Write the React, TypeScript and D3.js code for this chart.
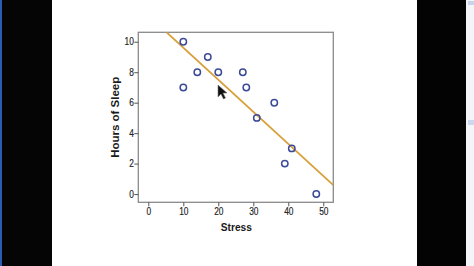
import * as d3 from "d3";
import { useEffect, useRef } from "react";

const stress = [10, 10, 14, 17, 20, 27, 28, 31, 36, 39, 41, 48];
const sleep = [10, 7, 8, 9, 8, 8, 7, 5, 6, 2, 3, 0];
const xTicks = [0, 10, 20, 30, 40, 50];
const yTicks = [0, 2, 4, 6, 8, 10];

const W = 474;
const H = 266;
// the video frame is squeezed a little horizontally, so the text is too
const SQ = 0.84;

export default function App() {
  const ref = useRef<SVGSVGElement>(null);

  useEffect(() => {
    const svg = d3.select(ref.current);
    svg.selectAll("*").remove();

    // screen frame around the slide
    svg.append("rect").attr("width", W).attr("height", H).attr("fill", "#ffffff");
    svg.append("rect").attr("x", 0).attr("width", 52).attr("height", H).attr("fill", "#050505");
    svg.append("rect").attr("x", 0).attr("width", 2).attr("height", H).attr("fill", "#2a5cb4");
    svg.append("rect").attr("x", 417).attr("width", 49).attr("height", H).attr("fill", "#030303");
    svg.append("rect").attr("x", 466).attr("width", 8).attr("height", H).attr("fill", "#f4f5f8");
    svg.append("rect").attr("x", 468).attr("y", 120).attr("width", 6).attr("height", 5).attr("fill", "#cdd8ee");
    svg.append("rect").attr("x", 468).attr("y", 1).attr("width", 6).attr("height", 4).attr("fill", "#c9d4ea");

    const left = 138.3, right = 333.3, top = 32.3, bottom = 202.3;
    const x = d3.scaleLinear().domain([-2.86, 52.86]).range([left, right]);
    const y = d3.scaleLinear().domain([-0.54, 10.62]).range([bottom, top]);

    const font = "'Liberation Sans', Arial, sans-serif";

    const g = svg.append("g");
    g.append("rect")
      .attr("x", left)
      .attr("y", top)
      .attr("width", right - left)
      .attr("height", bottom - top)
      .attr("fill", "#ffffff")
      .attr("stroke", "#8a8a8a")
      .attr("stroke-width", 1.3);

    const xAxis = d3.axisBottom(x).tickValues(xTicks).tickSize(4).tickPadding(3).tickFormat(d3.format("d"));
    const xg = g.append("g").attr("transform", `translate(0,${bottom})`).call(xAxis);
    xg.select(".domain").remove();
    xg.selectAll("line").attr("stroke", "#555");
    xg.selectAll("text")
      .attr("font-family", font)
      .attr("font-size", 10)
      .attr("fill", "#222")
      .attr("stroke", "#222")
      .attr("stroke-width", 0.15)
      .attr("y", 5.5)
      .attr("transform", `scale(${SQ},1)`);

    const yAxis = d3.axisLeft(y).tickValues(yTicks).tickSize(4).tickPadding(2).tickFormat(d3.format("d"));
    const yg = g.append("g").attr("transform", `translate(${left},0)`).call(yAxis);
    yg.select(".domain").remove();
    yg.selectAll("line").attr("stroke", "#555");
    yg.selectAll("text")
      .attr("font-family", font)
      .attr("font-size", 10)
      .attr("fill", "#222")
      .attr("stroke", "#222")
      .attr("stroke-width", 0.15)
      .attr("x", -4.4 / SQ)
      .attr("transform", `scale(${SQ},1)`);

    // least squares fit line
    const mx = d3.mean(stress) as number;
    const my = d3.mean(sleep) as number;
    const sxy = d3.sum(stress, (v, i) => (v - mx) * (sleep[i] - my));
    const sxx = d3.sum(stress, (v) => (v - mx) ** 2);
    const slope = sxy / sxx;
    const icpt = my - slope * mx;
    const x0 = (10.62 - icpt) / slope;
    const x1 = 52.86;

    g.append("clipPath").attr("id", "plotclip")
      .append("rect").attr("x", left).attr("y", top).attr("width", right - left).attr("height", bottom - top);

    g.append("line")
      .attr("clip-path", "url(#plotclip)")
      .attr("x1", x(x0))
      .attr("y1", y(icpt + slope * x0))
      .attr("x2", x(x1))
      .attr("y2", y(icpt + slope * x1))
      .attr("stroke", "#d7a03a")
      .attr("stroke-width", 1.8);

    g.selectAll("circle.pt")
      .data(stress)
      .enter()
      .append("circle")
      .attr("class", "pt")
      .attr("cx", (d) => x(d))
      .attr("cy", (_d, i) => y(sleep[i]))
      .attr("r", 3.2)
      .attr("fill", "none")
      .attr("stroke", "#3b4a99")
      .attr("stroke-width", 1.5);

    g.append("text")
      .attr("transform", `translate(${(left + right) / 2 + 0.5},230.6) scale(0.87,1)`)
      .attr("text-anchor", "middle")
      .attr("font-family", font)
      .attr("font-weight", "bold")
      .attr("font-size", 11.7)
      .attr("fill", "#1a1a1a")
      .text("Stress");

    g.append("text")
      .attr("transform", `translate(119.3,${(top + bottom) / 2}) scale(0.95,1) rotate(-90)`)
      .attr("text-anchor", "middle")
      .attr("font-family", font)
      .attr("font-weight", "bold")
      .attr("font-size", 11.5)
      .attr("fill", "#1a1a1a")
      .text("Hours of Sleep");

    // mouse pointer
    g.append("path")
      .attr("d", "M218,85 L218,97 L221,94 L223.5,99 L225.5,98 L223,93 L227,93 Z")
      .attr("fill", "#111")
      .attr("stroke", "#777")
      .attr("stroke-width", 0.6);
  }, []);

  return (
    <svg
      ref={ref}
      width={W}
      height={H}
      style={{ position: "absolute", left: 0, top: 0, display: "block" }}
    />
  );
}
